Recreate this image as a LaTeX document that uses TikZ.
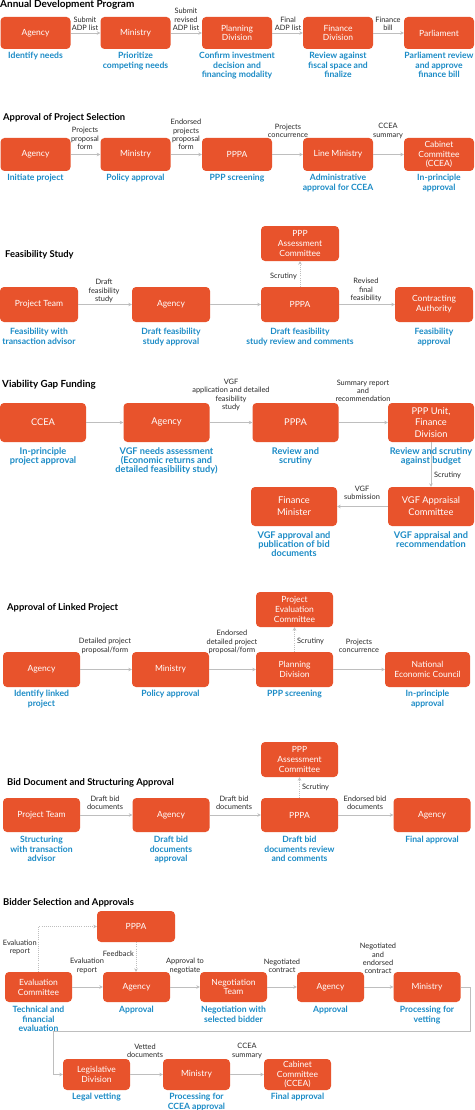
\documentclass[tikz,border=0pt]{standalone}
\usepackage{fontspec}
\setmainfont{Lato}
\usetikzlibrary{arrows.meta,calc}
\definecolor{boxor}{HTML}{E8532C}
\definecolor{lblue}{HTML}{1B8BC6}
\definecolor{agray}{HTML}{BEBEBE}
\definecolor{tgray}{HTML}{2A2A2A}
\tikzset{
  box/.style={fill=boxor, rounded corners=4pt, text=white, align=center,
    font=\fontsize{8.5}{9.8}\selectfont, inner sep=1pt},
  desc/.style={text=lblue, align=center, anchor=north, inner sep=0pt,
    font=\bfseries\fontsize{8.6}{9.3}\selectfont},
  lbl/.style={text=tgray, align=center, inner sep=0pt,
    font=\fontsize{7.4}{8.3}\selectfont},
  ttl/.style={anchor=west, inner sep=0pt, text=black,
    font=\bfseries\fontsize{9.4}{10}\selectfont},
  flow/.style={draw=agray, line width=0.9pt, -{Stealth[length=3.5pt,width=3.5pt]}},
  dflow/.style={flow, dash pattern=on 0.9pt off 1.2pt},
}
\begin{document}
\begin{tikzpicture}[x=1pt,y=-1pt]
\fill[white] (0,0) rectangle (474,1110);
\useasboundingbox (0,0) rectangle (474,1110);

% ---------------- Section 1
\node[ttl, font=\bfseries\fontsize{10}{11}\selectfont] (t1) at (0,5) {Annual Development Program};
\begin{scope}[box/.append style={minimum width=70pt,minimum height=32pt}]
\node[box] (a1) at (35.5,33) {Agency};
\node[box] (a2) at (135.5,33) {Ministry};
\node[box] (a3) at (237,33) {Planning\\Division};
\node[box] (a4) at (338,33) {Finance\\Division};
\node[box] (a5) at (439,33) {Parliament};
\end{scope}
\node[desc] (da1) at ($(a1.south)+(0,3)$) {Identify needs};
\node[desc] (da2) at ($(a2.south)+(0,3)$) {Prioritize\\competing needs};
\node[desc] (da3) at ($(a3.south)+(0,3)$) {Confirm investment\\decision and\\financing modality};
\node[desc] (da4) at ($(a4.south)+(0,3)$) {Review against\\fiscal space and\\finalize};
\node[desc] (da5) at ($(a5.south)+(0,3)$) {Parliament review\\and approve\\finance bill};
\draw[flow] (a1) -- (a2);
\draw[flow] (a2) -- (a3);
\draw[flow] (a3) -- (a4);
\draw[flow] (a4) -- (a5);
\node[lbl] (la1) at (85,24) {Submit\\ADP list};
\node[lbl] (la2) at (186,19.5) {Submit\\revised\\ADP list};
\node[lbl] (la3) at (288,24) {Final\\ADP list};
\node[lbl] (la4) at (388,24) {Finance\\bill};

% ---------------- Section 2
\node[ttl] (t2) at (3,118) {Approval of Project Selection};
\begin{scope}[box/.append style={minimum width=70pt,minimum height=33pt}]
\node[box] (b1) at (35.5,154.5) {Agency};
\node[box] (b2) at (135.5,154.5) {Ministry};
\node[box] (b3) at (237,154.5) {PPPA};
\node[box] (b4) at (338,154.5) {Line Ministry};
\node[box] (b5) at (439,154.5) {Cabinet\\Committee\\(CCEA)};
\end{scope}
\node[desc] (db1) at ($(b1.south)+(0,3)$) {Initiate project};
\node[desc] (db2) at ($(b2.south)+(0,3)$) {Policy approval};
\node[desc] (db3) at ($(b3.south)+(0,3)$) {PPP screening};
\node[desc] (db4) at ($(b4.south)+(0,3)$) {Administrative\\approval for CCEA};
\node[desc] (db5) at ($(b5.south)+(0,3)$) {In-principle\\approval};
\draw[flow] (b1) -- (b2);
\draw[flow] (b2) -- (b3);
\draw[flow] (b3) -- (b4);
\draw[flow] (b4) -- (b5);
\node[lbl] (lb1) at (85,138.5) {Projects\\proposal\\form};
\node[lbl] (lb2) at (186,134.5) {Endorsed\\projects\\proposal\\form};
\node[lbl] (lb3) at (288,131) {Projects\\concurrence};
\node[lbl] (lb4) at (388,131) {CCEA\\summary};

% ---------------- Section 3
\node[ttl] (t3) at (5,255) {Feasibility Study};
\begin{scope}[box/.append style={minimum width=78pt,minimum height=35pt}]
\node[box] (cp) at (300,243.5) {PPP\\Assessment\\Committee};
\node[box] (c1) at (39,304.5) {Project Team};
\node[box] (c2) at (171,304.5) {Agency};
\node[box] (c3) at (300,304.5) {PPPA};
\node[box] (c4) at (434,304.5) {Contracting\\Authority};
\end{scope}
\node[desc] (dc1) at ($(c1.south)+(0,6)$) {Feasibility with\\transaction advisor};
\node[desc] (dc2) at ($(c2.south)+(0,6)$) {Draft feasibility\\study approval};
\node[desc] (dc3) at ($(c3.south)+(0,6)$) {Draft feasibility\\study review and comments};
\node[desc] (dc4) at ($(c4.south)+(0,6)$) {Feasibility\\approval};
\draw[flow] (c1) -- (c2);
\draw[flow] (c2) -- (c3);
\draw[flow] (c3) -- (c4);
\draw[dflow] (c3.north) -- (cp.south);
\node[lbl] (lc1) at (104,291) {Draft\\feasibility\\study};
\node[lbl] (lc2) at (366,290) {Revised\\final\\feasibility};
\node[lbl, anchor=east] (lc3) at (297,276) {Scrutiny};

% ---------------- Section 4
\node[ttl, font=\bfseries\fontsize{9.8}{11}\selectfont] (t4) at (2,385) {Viability Gap Funding};
\begin{scope}[box/.append style={minimum width=86pt,minimum height=39pt,
    font=\fontsize{9.3}{11.8}\selectfont},
    desc/.append style={font=\bfseries\fontsize{9.2}{9.3}\selectfont}]
\node[box] (v1) at (43,422.5) {CCEA};
\node[box] (v2) at (166.5,422.5) {Agency};
\node[box] (v3) at (295.5,422.5) {PPPA};
\node[box] (v4) at (431,422.5) {PPP Unit,\\Finance\\Division};
\node[box] (v5) at (431,506.5) {VGF Appraisal\\Committee};
\node[box] (v6) at (294,506.5) {Finance\\Minister};
\draw[flow] (v4.south) -- (v5.north);
\node[desc] (dv1) at ($(v1.south)+(0,5)$) {In-principle\\project approval};
\node[desc] (dv2) at ($(v2.south)+(0,5)$) {VGF needs assessment\\(Economic returns and\\detailed feasibility study)};
\node[desc] (dv3) at ($(v3.south)+(0,5)$) {Review and\\scrutiny};
\node[desc] (dv4) at ($(v4.south)+(0,5)$) {Review and scrutiny\\against budget};
\node[desc] (dv5) at ($(v5.south)+(0,5)$) {VGF appraisal and\\recommendation};
\node[desc] (dv6) at ($(v6.south)+(0,5)$) {VGF approval and\\publication of bid\\documents};
\end{scope}
\draw[flow] (v1) -- (v2);
\draw[flow] (v2) -- (v3);
\draw[flow] (v3) -- (v4);
\draw[flow] (v5) -- (v6);
\node[lbl] (lv1) at (231,395) {VGF\\application and detailed\\feasibility\\study};
\node[lbl] (lv2) at (363,391) {Summary report\\and\\recommendation};
\node[lbl, anchor=west] (lv3) at (434,475) {Scrutiny};
\node[lbl] (lv4) at (362,493) {VGF\\submission};

% ---------------- Section 5
\node[ttl] (t5) at (7,608) {Approval of Linked Project};
\begin{scope}[box/.append style={minimum width=77pt,minimum height=35pt}]
\node[box] (kp) at (294.5,609.5) {Project\\Evaluation\\Committee};
\node[box] (k1) at (41.5,669.5) {Agency};
\node[box] (k2) at (170.5,669.5) {Ministry};
\node[box] (k3) at (294.5,669.5) {Planning\\Division};
\node[box, minimum width=85pt] (k4) at (427.5,669.5) {National\\Economic Council};
\end{scope}
\node[desc] (dk1) at ($(k1.south)+(0,3)$) {Identify linked\\project};
\node[desc] (dk2) at ($(k2.south)+(0,3)$) {Policy approval};
\node[desc] (dk3) at ($(k3.south)+(0,3)$) {PPP screening};
\node[desc] (dk4) at ($(k4.south)+(0,3)$) {In-principle\\approval};
\draw[flow] (k1) -- (k2);
\draw[flow] (k2) -- (k3);
\draw[flow] (k3) -- (k4);
\draw[dflow] (k3.north) -- (kp.south);
\node[lbl] (lk1) at (105,646) {Detailed project\\proposal/form};
\node[lbl] (lk2) at (232,642) {Endorsed\\detailed project\\proposal/form};
\node[lbl, anchor=west] (lk3) at (297,641) {Scrutiny};
\node[lbl] (lk4) at (359,646) {Projects\\concurrence};

% ---------------- Section 6
\node[ttl] (t6) at (7,783) {Bid Document and Structuring Approval};
\begin{scope}[box/.append style={minimum width=77pt,minimum height=34pt}]
\node[box, minimum height=35pt] (mp) at (299.5,759.5) {PPP\\Assessment\\Committee};
\node[box] (m1) at (41.5,815) {Project Team};
\node[box] (m2) at (171,815) {Agency};
\node[box] (m3) at (299.5,815) {PPPA};
\node[box] (m4) at (432,815) {Agency};
\end{scope}
\node[desc] (dm1) at ($(m1.south)+(0,4)$) {Structuring\\with transaction\\advisor};
\node[desc] (dm2) at ($(m2.south)+(0,4)$) {Draft bid\\documents\\approval};
\node[desc] (dm3) at ($(m3.south)+(0,4)$) {Draft bid\\documents review\\and comments};
\node[desc] (dm4) at ($(m4.south)+(0,4)$) {Final approval};
\draw[flow] (m1) -- (m2);
\draw[flow] (m2) -- (m3);
\draw[flow] (m3) -- (m4);
\draw[dflow] (m3.north) -- (mp.south);
\node[lbl] (lm1) at (105,803) {Draft bid\\documents};
\node[lbl] (lm2) at (234,803) {Draft bid\\documents};
\node[lbl] (lm3) at (365,803) {Endorsed bid\\documents};
\node[lbl, anchor=west] (lm4) at (302,787) {Scrutiny};

% ---------------- Section 7
\node[ttl] (t7) at (3,903) {Bidder Selection and Approvals};
\begin{scope}[box/.append style={minimum width=67pt,minimum height=30pt}]
\node[box, minimum width=78pt, minimum height=31pt] (ep) at (136,926.5) {PPPA};
\node[box] (e1) at (38.5,987) {Evaluation\\Committee};
\node[box] (e2) at (136.5,987) {Agency};
\node[box] (e3) at (233.5,987) {Negotiation\\Team};
\node[box] (e4) at (330.5,987) {Agency};
\node[box] (e5) at (427,987) {Ministry};
\node[box, minimum height=31pt] (g1) at (96.5,1074.5) {Legislative\\Division};
\node[box, minimum height=31pt] (g2) at (196.5,1074.5) {Ministry};
\node[box, minimum height=31pt] (g3) at (297.5,1074.5) {Cabinet\\Committee\\(CCEA)};
\end{scope}
\node[desc] (de1) at ($(e1.south)+(0,4)$) {Technical and\\financial\\evaluation};
\node[desc] (de2) at ($(e2.south)+(0,4)$) {Approval};
\node[desc] (de3) at ($(e3.south)+(0,4)$) {Negotiation with\\selected bidder};
\node[desc] (de4) at ($(e4.south)+(0,4)$) {Approval};
\node[desc] (de5) at ($(e5.south)+(0,4)$) {Processing for\\vetting};
\node[desc] (dg1) at ($(g1.south)+(0,3)$) {Legal vetting};
\node[desc] (dg2) at ($(g2.south)+(0,3)$) {Processing for\\CCEA approval};
\node[desc] (dg3) at ($(g3.south)+(0,3)$) {Final approval};
\coordinate (r1) at (470,1031);
\coordinate (r2) at (53,1031);
\draw[dflow] (e1.north) |- (ep.west);
\draw[dflow] (ep.south) -- (ep.south |- e2.north);
\draw[flow] (e1) -- (e2);
\draw[flow] (e2) -- (e3);
\draw[flow] (e3) -- (e4);
\draw[flow] (e4) -- (e5);
\draw[flow] (e5.east) -| (r1) -- (r2) |- (g1.west);
\draw[flow] (g1) -- (g2);
\draw[flow] (g2) -- (g3);
\node[lbl, anchor=east] (le0) at (37,947.5) {Evaluation\\report};
\node[lbl, anchor=east] (le00) at (134,954) {Feedback};
\node[lbl] (le1) at (87,966) {Evaluation\\report};
\node[lbl] (le2) at (185,966) {Approval to\\negotiate};
\node[lbl] (le3) at (282,966) {Negotiated\\contract};
\node[lbl] (le4) at (378,958.5) {Negotiated\\and\\endorsed\\contract};
\node[lbl] (lg1) at (145,1051) {Vetted\\documents};
\node[lbl] (lg2) at (247,1051) {CCEA\\summary};
\end{tikzpicture}
\end{document}
